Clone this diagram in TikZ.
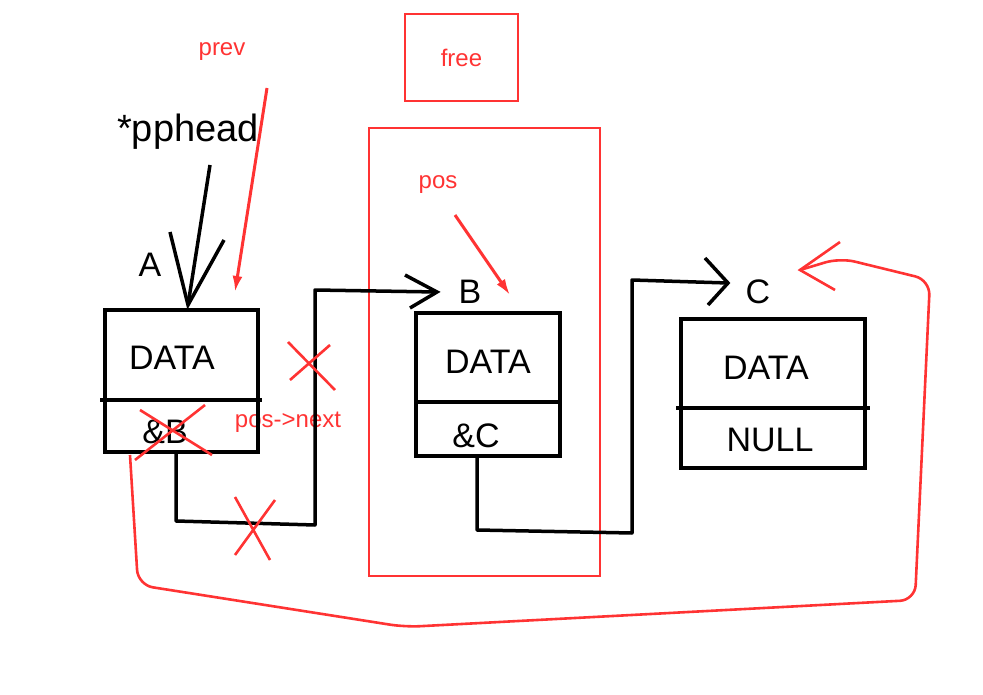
\documentclass[tikz,border=0pt]{standalone}
\usetikzlibrary{arrows.meta}
\usepackage{fontspec}
\setmainfont{Liberation Sans}
\begin{document}
\begin{tikzpicture}[x=1pt,y=-1pt,
  blk/.style={line width=3.5pt,black},
  rd/.style={line width=2.6pt,red!80!white},
  box/.style={draw,line width=3.5pt,inner sep=0pt},
  bt/.style={font=\fontsize{34}{36}\selectfont},
  rt/.style={text=red!80!white,font=\fontsize{24}{26}\selectfont}]
\useasboundingbox (0,0) rectangle (983,695);
% red frames
\node[draw=red!80!white,line width=2pt,minimum width=113pt,minimum height=87pt,rt] (free) at (461.5,57.5) {free};
\node[draw=red!80!white,line width=2pt,minimum width=231pt,minimum height=448pt] (frame) at (484.5,352) {};
\node[rt] (prev) at (222,52) {prev};
\node[rt] (pos) at (438,185) {pos};
\node[rt] (pn) at (288,422) {pos->next};
% boxes
\node[box,minimum width=153pt,minimum height=142pt] (A) at (181.5,381) {};
\node[box,minimum width=144pt,minimum height=143pt] (B) at (488,384.5) {};
\node[box,minimum width=184pt,minimum height=149pt] (C) at (773,393.5) {};
\draw[blk] (100,400) -- (262,400);
\draw[blk] (416,402) -- (560,402);
\draw[blk] (676,408) -- (870,408);
\node[bt] (ad) at (172,358) {DATA};
\node[bt] (ab) at (165,432) {\&B};
\node[bt] (bd) at (488,362) {DATA};
\node[bt] (bc) at (476,436) {\&C};
\node[bt] (cd) at (766,368) {DATA};
\node[bt] (cn) at (770,440) {NULL};
\node[bt] (la) at (150,265) {A};
\node[bt] (lb) at (470,292) {B};
\node[bt] (lc) at (758,292) {C};
\node[font=\fontsize{38}{40}\selectfont] (pp) at (188,132) {*pphead};
% pphead arrow
\coordinate (pa) at (188,305);
\draw[blk] (210,165) -- (pa);
\draw[blk] (170,232) -- (pa) -- (224,240);
% A -> B
\coordinate (bt1) at (437,292);
\draw[blk,line join=round] (176,452) -- (176,521) -- (315,525) -- (315,290) -- (bt1);
\draw[blk] (405,275) -- (bt1) -- (410,308);
% B -> C
\coordinate (ct1) at (728,283);
\draw[blk,line join=round] (477,456) -- (477,530) -- (632,533) -- (632,280) -- (ct1);
\draw[blk] (705,258) -- (ct1) -- (708,305);
% red arrows
\draw[rd,line width=3pt,-{Latex[length=16pt,width=10pt]}] (267,88) -- (235,292);
\draw[rd,line width=3pt,-{Latex[length=16pt,width=10pt]}] (455,215) -- (510,295);
% red X marks
\draw[rd] (140,410) -- (212,455) (135,460) -- (205,405);
\draw[rd] (288,342) -- (335,390) (290,380) -- (330,345);
\draw[rd] (235,497) -- (270,560) (235,555) -- (275,500);
% red loop
\coordinate (ct2) at (800,270);
\draw[rd,rounded corners=15pt] (130,455) -- (138,585) -- (405,627) -- (915,600) -- (930,280) -- (840,258) -- (ct2);
\draw[rd] (840,242) -- (ct2) -- (835,290);
\end{tikzpicture}
\end{document}
